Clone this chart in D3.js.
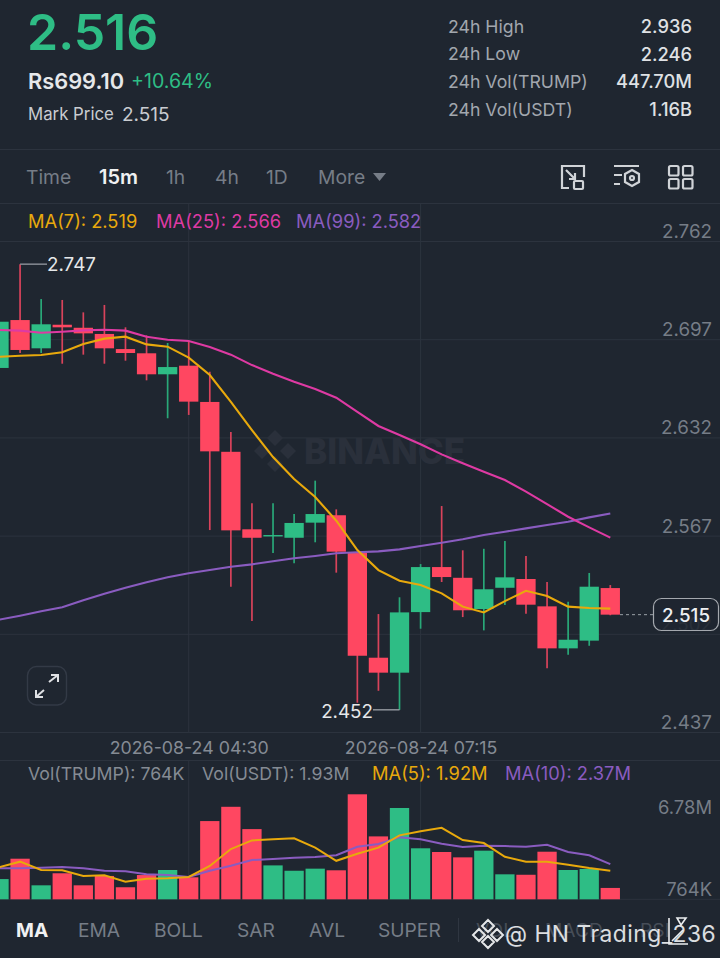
<!DOCTYPE html>
<html>
<head>
<meta charset="utf-8">
<script src="https://cdnjs.cloudflare.com/ajax/libs/d3/7.8.5/d3.min.js"></script>
<style>
html,body{margin:0;padding:0;background:#1f2630;overflow:hidden}
svg{display:block}
text{font-family:Inter,"Noto Sans",sans-serif}
</style>
</head>
<body>
<svg id="svg" width="720" height="958"></svg>
<script>
const times = ["02:15","02:30","02:45","03:00","03:15","03:30","03:45","04:00","04:15","04:30",
  "04:45","05:00","05:15","05:30","05:45","06:00","06:15","06:30","06:45","07:00",
  "07:15","07:30","07:45","08:00","08:15","08:30","08:45","09:00","09:15","09:30"];
const open = [2.6783,2.7100,2.6913,2.7069,2.7049,2.7008,2.6908,2.6880,2.6741,2.6798,
  2.6558,2.6228,2.5715,2.5671,2.5659,2.5759,2.5808,2.5558,2.4865,2.4766,
  2.5167,2.5465,2.5394,2.5187,2.5328,2.5386,2.5205,2.4927,2.4978,2.5326];
const close = [2.7089,2.6902,2.7072,2.7052,2.7012,2.6913,2.6882,2.6741,2.6789,2.6560,
  2.6231,2.5708,2.5659,2.5677,2.5757,2.5816,2.5567,2.4878,2.4766,2.5165,
  2.5465,2.5399,2.5179,2.5318,2.5397,2.5216,2.4927,2.4984,2.5335,2.5150];
const high = [2.7140,2.7470,2.7239,2.7233,2.7151,2.7200,2.7052,2.6999,2.6948,2.6961,
  2.6758,2.6359,2.5887,2.5887,2.5816,2.6037,2.5847,2.5558,2.5154,2.5265,
  2.5485,2.5869,2.5576,2.5586,2.5637,2.5538,2.5366,2.5236,2.5426,2.5346];
const low = [2.6716,2.6882,2.6882,2.6811,2.6871,2.6811,2.6831,2.6701,2.6450,2.6472,
  2.5710,2.5335,2.5108,2.5558,2.5490,2.5629,2.5428,2.4567,2.4646,2.4520,
  2.5057,2.5366,2.5134,2.5046,2.5214,2.5156,2.4795,2.4885,2.4944,2.5146];
const ma7 = [2.6857,2.6864,2.6869,2.6887,2.6941,2.6977,2.6990,2.6939,2.6924,2.6851,
  2.6736,2.6558,2.6372,2.6193,2.6048,2.5929,2.5772,2.5578,2.5445,2.5375,
  2.5346,2.5291,2.5203,2.5165,2.5240,2.5308,2.5273,2.5203,2.5194,2.5190];
const ma25 = [2.7034,2.7030,2.7016,2.7023,2.7032,2.7036,2.7030,2.6990,2.6970,2.6961,
  2.6922,2.6871,2.6802,2.6745,2.6692,2.6644,2.6586,2.6493,2.6399,2.6339,
  2.6278,2.6211,2.6152,2.6096,2.6041,2.5964,2.5882,2.5798,2.5728,2.5660];
const ma99 = [2.5117,2.5143,2.5172,2.5199,2.5245,2.5289,2.5328,2.5364,2.5397,2.5424,
  2.5446,2.5467,2.5483,2.5503,2.5523,2.5538,2.5556,2.5563,2.5569,2.5582,
  2.5604,2.5626,2.5649,2.5677,2.5699,2.5721,2.5743,2.5765,2.5794,2.5820];
// volume in millions
const vol = [1.36,2.73,0.94,1.75,0.94,1.57,0.81,1.63,1.97,1.48,
  5.26,6.22,4.72,2.28,1.92,2.06,1.95,7.06,4.23,6.14,
  3.43,3.18,2.82,3.27,1.68,1.65,3.20,1.97,2.04,0.764];
const volMa5 = [2.15,2.53,1.97,1.95,1.57,1.61,1.18,1.38,1.41,1.50,
  2.24,3.38,3.96,4.03,4.10,3.47,2.59,3.06,3.47,4.30,
  4.57,4.81,3.98,3.78,2.86,2.53,2.53,2.33,2.10,1.92];
const volMa10 = [2.08,2.08,2.12,2.17,2.08,1.92,1.88,1.68,1.63,1.50,
  1.92,2.26,2.64,2.71,2.80,2.84,2.96,3.53,3.72,4.17,
  4.03,3.74,3.51,3.60,3.58,3.53,3.67,3.18,2.96,2.37];
const priceTicks = [2.762,2.697,2.632,2.567,2.502,2.437];
const timeTicks = ["04:30","07:15"];
const stats = [["24h High","2.936"],["24h Low","2.246"],["24h Vol(TRUMP)","447.70M"],["24h Vol(USDT)","1.16B"]];
const intervals = [["Time",26],["15m",99],["1h",166],["4h",215],["1D",266],["More",318]];
const indicators = [["MA",16],["EMA",78],["BOLL",154],["SAR",237],["AVL",309],["SUPER",378],["VOL",476],["MACD",545],["RSI",640]];

const GREEN = "#2ebd85", RED = "#ff4761", YELLOW = "#e8a90c", PINK = "#de3aa3", PURPLE = "#8a5cc0";
const GRID = "#2c333e", BG = "#1f2630";

const svg = d3.select("#svg");
const x = d3.scalePoint().domain(times).range([-1,610.3]);
const y = d3.scaleLinear().domain([2.437,2.762]).range([732.5,241.5]);
const yVol = d3.scaleLinear().domain([0,7.06]).range([899.3,794.3]);
const bodyW = 19.3;

function label(g,t,px,py,size,fill,weight,anchor){
  return g.append("text").attr("x",px).attr("y",py).attr("font-size",size).attr("fill",fill)
    .attr("font-weight",weight||400).attr("text-anchor",anchor||"start").attr("dominant-baseline","central").text(t);
}

// header
const head = svg.append("g");
label(head,"2.516",27,32,50,GREEN,600);
label(head,"Rs699.10",28,81,21.8,"#e6e8ea",600);
label(head,"+10.64%",131,81,19.6,GREEN,400);
label(head,"Mark Price",28,114,16.8,"#c9ccd1",400);
label(head,"2.515",122,114,19,"#c9ccd1",400);
stats.forEach((s,i)=>{
  let py = 26+i*27.7;
  label(head,s[0],448,py,17.7,"#a2a7ae",400);
  label(head,s[1],692,py,18.3,"#dfe1e4",500,"end");
});
head.append("line").attr("x1",0).attr("x2",720).attr("y1",149.5).attr("y2",149.5).attr("stroke",GRID);
head.append("line").attr("x1",0).attr("x2",720).attr("y1",203.5).attr("y2",203.5).attr("stroke",GRID);
intervals.forEach(d=>{
  let on = d[0]=="15m";
  label(head,d[0],d[1],177,on?20:19.3,on?"#f0f1f2":"#767d87",on?600:400);
});
head.append("path").attr("d","M373,173L386,173L379.5,181Z").attr("fill","#767d87");

// toolbar icons
const icons = svg.append("g").attr("fill","none").attr("stroke","#d0d3d7").attr("stroke-width",2.2);
icons.append("path").attr("d","M569,188H562V166H584V177M566,170L575,179M575,173V179H569");
icons.append("rect").attr("x",574).attr("y",181).attr("width",9).attr("height",8).attr("rx",1);
icons.append("path").attr("d","M614,166H639M614,175H622M614,184H620");
icons.append("path").attr("d","M632,170L639,174V182L632,186L625,182V174Z");
icons.append("circle").attr("cx",632).attr("cy",178).attr("r",2);
[[669,166],[683,166],[669,179],[683,179]].forEach(p=>{
  icons.append("rect").attr("x",p[0]).attr("y",p[1]).attr("width",9.5).attr("height",9.5).attr("rx",1.5);
});

// grid
const grid = svg.append("g").attr("stroke",GRID).attr("stroke-width",1);
grid.selectAll("line.h").data(priceTicks).join("line").attr("class","h")
  .attr("x1",0).attr("x2",720).attr("y1",d=>y(d)).attr("y2",d=>y(d));
grid.append("line").attr("x1",0).attr("x2",720).attr("y1",760.5).attr("y2",760.5);
grid.append("line").attr("x1",0).attr("x2",720).attr("y1",yVol(0)).attr("y2",yVol(0));
timeTicks.forEach(t=>{
  grid.append("line").attr("x1",x(t)).attr("x2",x(t)).attr("y1",204).attr("y2",732.5);
  grid.append("line").attr("x1",x(t)).attr("x2",x(t)).attr("y1",761).attr("y2",899);
});

// watermark
const wm = svg.append("g").attr("fill","#2a303b");
wm.append("path").attr("transform","translate(275,451)")
  .attr("d","M0,-21L8,-13L0,-5L-8,-13ZM-13,-8L-5,0L-13,8L-21,0ZM13,-8L21,0L13,8L5,0ZM0,5L8,13L0,21L-8,13Z");
label(wm,"BINANCE",304,451,35,"#2a303b",800);

// price axis
const yAxis = d3.axisRight(y).tickValues(priceTicks).tickFormat(d3.format(".3f")).tickSize(0);
const yg = svg.append("g").call(yAxis);
yg.select(".domain").remove();
yg.selectAll("text").attr("x",712).attr("dy",0).attr("y",-10.5).attr("text-anchor","end")
  .attr("dominant-baseline","central").attr("font-size",18.8).attr("fill","#767d87").attr("font-family","Inter");

// time axis
const xAxis = d3.axisBottom(x).tickValues(timeTicks).tickFormat(d=>"2026-08-24 "+d).tickSize(0);
const xg = svg.append("g").attr("transform","translate(0,741)").call(xAxis);
xg.select(".domain").remove();
xg.selectAll("text").attr("y",0).attr("dy","0.71em").attr("font-size",17.8).attr("fill","#858b94").attr("font-family","Inter");

// candles
const idx = d3.range(times.length);
const candles = svg.append("g");
candles.selectAll("line").data(idx).join("line")
  .attr("x1",i=>x(times[i])).attr("x2",i=>x(times[i]))
  .attr("y1",i=>y(high[i])).attr("y2",i=>y(low[i]))
  .attr("stroke",i=>close[i]>=open[i]?"#29a878":"#d9435b").attr("stroke-width",1.7);
candles.selectAll("rect").data(idx).join("rect")
  .attr("x",i=>x(times[i])-bodyW/2).attr("width",bodyW)
  .attr("y",i=>y(Math.max(open[i],close[i])))
  .attr("height",i=>Math.max(1.4,Math.abs(y(open[i])-y(close[i]))))
  .attr("fill",i=>close[i]>=open[i]?GREEN:RED);

// moving averages
const line = d3.line().x((d,i)=>x(times[i])).y(d=>y(d));
[[ma99,PURPLE],[ma25,PINK],[ma7,YELLOW]].forEach(m=>{
  svg.append("path").attr("d",line(m[0])).attr("fill","none").attr("stroke",m[1]).attr("stroke-width",2.1);
});

// legend
label(svg,"MA(7): 2.519",28,221,18.3,YELLOW);
label(svg,"MA(25): 2.566",156,221,18.3,PINK);
label(svg,"MA(99): 2.582",296,221,18.3,PURPLE);

// high / low marks
svg.append("path").attr("d",`M${x(times[1])},${y(2.747)}H47`).attr("stroke","#8d929a").attr("stroke-width",1.4);
label(svg,"2.747",47,264,18.8,"#e6e8ea");
svg.append("path").attr("d",`M${x(times[19])},${y(2.452)}H373`).attr("stroke","#a9adb3").attr("stroke-width",1.2);
label(svg,"2.452",373,711,18.8,"#e6e8ea",400,"end");

// last price
svg.append("line").attr("x1",620).attr("x2",653).attr("y1",y(2.515)).attr("y2",y(2.515))
  .attr("stroke","#9a9fa6").attr("stroke-dasharray","3,3");
svg.append("rect").attr("x",653.5).attr("y",598.5).attr("width",65).attr("height",32).attr("rx",8)
  .attr("fill",BG).attr("fill-opacity",0.88).attr("stroke","#a4a8ae").attr("stroke-width",1.2);
label(svg,"2.515",686,615,18.8,"#eef0f2",500,"middle");

// expand button
const ex = svg.append("g");
ex.append("rect").attr("x",27.5).attr("y",666.5).attr("width",39).attr("height",38.5).attr("rx",9)
  .attr("fill","none").attr("stroke","#333a46").attr("stroke-width",1.4);
ex.append("path").attr("d","M49,682L58,675M51,675H58V682M44,690L36,697M36,690V697H43")
  .attr("fill","none").attr("stroke","#dfe1e4").attr("stroke-width",2);

// volume
label(svg,"Vol(TRUMP): 764K",28,773,17.7,"#858b94");
label(svg,"Vol(USDT): 1.93M",202,773,17.7,"#858b94");
label(svg,"MA(5): 1.92M",372,773,18.3,YELLOW);
label(svg,"MA(10): 2.37M",505,773,18.3,PURPLE);
label(svg,"6.78M",712,807,18.4,"#767d87",400,"end");
label(svg,"764K",712,889,18.4,"#767d87",400,"end");
svg.append("g").selectAll("rect").data(idx).join("rect")
  .attr("x",i=>x(times[i])-bodyW/2).attr("width",bodyW)
  .attr("y",i=>yVol(vol[i])).attr("height",i=>yVol(0)-yVol(vol[i]))
  .attr("fill",i=>close[i]>=open[i]?GREEN:RED);
const volLine = d3.line().x((d,i)=>x(times[i])).y(d=>yVol(d));
[[volMa10,PURPLE],[volMa5,YELLOW]].forEach(m=>{
  svg.append("path").attr("d",volLine(m[0])).attr("fill","none").attr("stroke",m[1]).attr("stroke-width",2);
});

// indicator tabs
indicators.forEach((d,i)=>{
  let faded = i>5;
  label(svg,d[0],d[1],930,19.2,i==0?"#f0f1f2":"#767d87",i==0?700:400).attr("opacity",faded?0.45:1);
});
svg.append("line").attr("x1",458.5).attr("x2",458.5).attr("y1",918).attr("y2",942).attr("stroke","#2f3641");

// user watermark
const tag = svg.append("g");
tag.append("path").attr("transform","translate(488,932)").attr("fill","none").attr("stroke","#e4e6e8").attr("stroke-width",2)
  .attr("d","M0,-12L6,-6L0,0L-6,-6ZM-9,-3L-3,3L-9,9L-15,3ZM9,-3L15,3L9,9L3,3ZM0,4L6,10L0,16L-6,10Z");
label(tag,"@ HN Trading_236",505,933,22.8,"#eceef0",400).attr("opacity",0.92).attr("letter-spacing",0.5);
tag.append("path").attr("d","M669,918V944H688M677,918L686,918L681,925ZM683,930L672,941")
  .attr("fill","none").attr("stroke","#eceef0").attr("stroke-width",1.6);
</script>
</body>
</html>
